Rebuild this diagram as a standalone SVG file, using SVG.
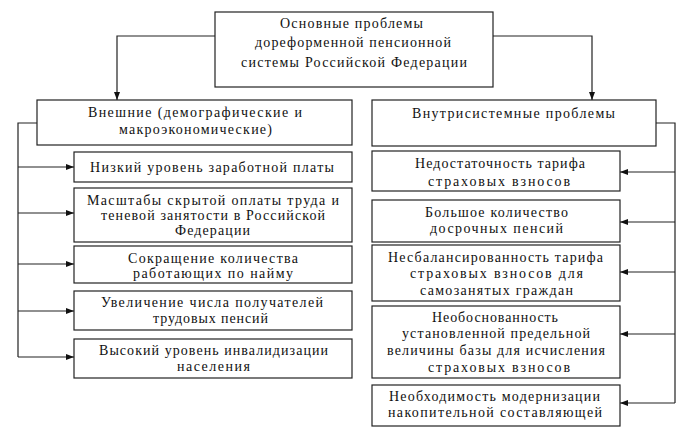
<svg xmlns="http://www.w3.org/2000/svg" width="682" height="429" viewBox="0 0 682 429">
<defs>
<style>
.box{fill:#fff;stroke:#222;stroke-width:1.2}
.ln{fill:none;stroke:#222;stroke-width:1.2}
text{font-family:"Liberation Serif","Times New Roman",serif;font-size:14px;fill:#111}
</style>
<marker id="ah" markerUnits="userSpaceOnUse" markerWidth="8" markerHeight="6" refX="8" refY="3" orient="auto">
<path d="M0,0 L8,3 L0,6 z" fill="#111"/>
</marker>
</defs>
<rect width="682" height="429" fill="#fff"/>
<g id="connectors">
<path class="ln" d="M215,36 H117 V100" marker-end="url(#ah)"/>
<path class="ln" d="M493,36 H592 V100" marker-end="url(#ah)"/>
<path class="ln" d="M37,123 H18 V357"/>
<path class="ln" d="M18,167 H74" marker-end="url(#ah)"/>
<path class="ln" d="M18,213 H74" marker-end="url(#ah)"/>
<path class="ln" d="M18,264 H74" marker-end="url(#ah)"/>
<path class="ln" d="M18,311 H74" marker-end="url(#ah)"/>
<path class="ln" d="M18,357 H74" marker-end="url(#ah)"/>
<path class="ln" d="M656,123 H675 V403"/>
<path class="ln" d="M675,172 H620" marker-end="url(#ah)"/>
<path class="ln" d="M675,222 H620" marker-end="url(#ah)"/>
<path class="ln" d="M675,272 H620" marker-end="url(#ah)"/>
<path class="ln" d="M675,334 H620" marker-end="url(#ah)"/>
<path class="ln" d="M675,403 H620" marker-end="url(#ah)"/>
</g>
<g id="root">
<rect class="box" x="215" y="12" width="278" height="75"/>
<text x="280" y="27.5" textLength="143" lengthAdjust="spacing">Основные проблемы</text>
<text x="255" y="47" textLength="196" lengthAdjust="spacing">дореформенной пенсионной</text>
<text x="241" y="66.5" textLength="226" lengthAdjust="spacing">системы Российской Федерации</text>
</g>
<g id="external">
<rect class="box" x="37" y="100" width="315" height="45"/>
<text x="88" y="117" textLength="214" lengthAdjust="spacing">Внешние (демографические и</text>
<text x="119" y="133.5" textLength="153" lengthAdjust="spacing">макроэкономические)</text>
</g>
<g id="e1">
<rect class="box" x="74" y="152" width="278" height="30"/>
<text x="90" y="171.5" textLength="244" lengthAdjust="spacing">Низкий уровень заработной платы</text>
</g>
<g id="e2">
<rect class="box" x="74" y="188" width="278" height="54"/>
<text x="87" y="205" textLength="252" lengthAdjust="spacing">Масштабы скрытой оплаты труда и</text>
<text x="101" y="220" textLength="224" lengthAdjust="spacing">теневой занятости в Российской</text>
<text x="175" y="235" textLength="75" lengthAdjust="spacing">Федерации</text>
</g>
<g id="e3">
<rect class="box" x="74" y="246" width="278" height="37"/>
<text x="128" y="262.5" textLength="170" lengthAdjust="spacing">Сокращение количества</text>
<text x="133" y="277.5" textLength="160" lengthAdjust="spacing">работающих по найму</text>
</g>
<g id="e4">
<rect class="box" x="74" y="291" width="278" height="39"/>
<text x="101" y="306.5" textLength="222" lengthAdjust="spacing">Увеличение числа получателей</text>
<text x="153" y="322.5" textLength="115" lengthAdjust="spacing">трудовых пенсий</text>
</g>
<g id="e5">
<rect class="box" x="74" y="339" width="278" height="39"/>
<text x="99" y="354.5" textLength="229" lengthAdjust="spacing">Высокий уровень инвалидизации</text>
<text x="177" y="370.5" textLength="73" lengthAdjust="spacing">населения</text>
</g>
<g id="internal">
<rect class="box" x="372" y="100" width="284" height="46"/>
<text x="412" y="117.5" textLength="203" lengthAdjust="spacing">Внутрисистемные проблемы</text>
</g>
<g id="i1">
<rect class="box" x="372" y="151" width="248" height="40"/>
<text x="415" y="167.5" textLength="170" lengthAdjust="spacing">Недостаточность тарифа</text>
<text x="428" y="185.5" textLength="142" lengthAdjust="spacing">страховых взносов</text>
</g>
<g id="i2">
<rect class="box" x="372" y="200" width="248" height="42"/>
<text x="425" y="216.5" textLength="143" lengthAdjust="spacing">Большое количество</text>
<text x="430" y="232.5" textLength="133" lengthAdjust="spacing">досрочных пенсий</text>
</g>
<g id="i3">
<rect class="box" x="372" y="245" width="248" height="56"/>
<text x="388" y="261.5" textLength="215" lengthAdjust="spacing">Несбалансированность тарифа</text>
<text x="410" y="277.5" textLength="173" lengthAdjust="spacing">страховых взносов для</text>
<text x="420" y="294.5" textLength="153" lengthAdjust="spacing">самозанятых граждан</text>
</g>
<g id="i4">
<rect class="box" x="372" y="306" width="248" height="72"/>
<text x="432" y="321.5" textLength="126" lengthAdjust="spacing">Необоснованность</text>
<text x="402" y="337.5" textLength="188" lengthAdjust="spacing">установленной предельной</text>
<text x="387" y="354.5" textLength="218" lengthAdjust="spacing">величины базы для исчисления</text>
<text x="428" y="371.5" textLength="142" lengthAdjust="spacing">страховых взносов</text>
</g>
<g id="i5">
<rect class="box" x="372" y="385" width="248" height="41"/>
<text x="389" y="400.5" textLength="211" lengthAdjust="spacing">Необходимость модернизации</text>
<text x="388" y="416.5" textLength="214" lengthAdjust="spacing">накопительной составляющей</text>
</g>
</svg>
